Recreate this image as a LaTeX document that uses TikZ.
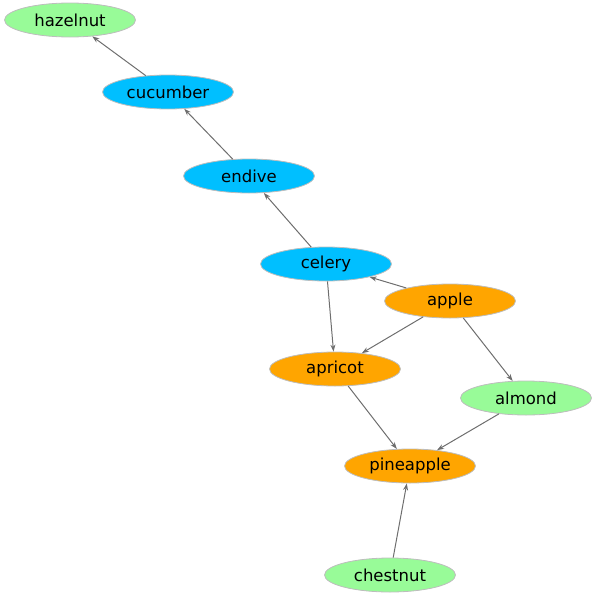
\documentclass[tikz,border=0pt]{standalone}
\usepackage{fontspec}
\setmainfont{DejaVu Sans}
\usepackage{xcolor}
\usepackage{tikz}
\usetikzlibrary{shapes.geometric,arrows.meta}

\definecolor{leafgreen}{HTML}{98FB98}
\definecolor{stemblue}{HTML}{00BFFF}
\definecolor{fruitorange}{HTML}{FFA500}
\definecolor{rimgray}{HTML}{BDBDBD}
\definecolor{linkgray}{HTML}{6E6E6E}

\begin{document}
\begin{tikzpicture}[x=1pt,y=-1pt,
    	veg/.style={ellipse,draw=rimgray,line width=0.8,minimum width=131,minimum height=34,inner sep=0,font=\fontsize{16.5}{19}\selectfont},
    	link/.style={draw=linkgray,line width=1,-{Stealth[length=7,width=5]}}]
	\useasboundingbox (0,0) rectangle (597,597);
	\node [veg,fill=leafgreen] (hazelnut) at (70,20) {hazelnut};
	\node [veg,fill=stemblue] (cucumber) at (168,92) {cucumber};
	\node [veg,fill=stemblue] (endive) at (249,176) {endive};
	\node [veg,fill=stemblue] (celery) at (326,264) {celery};
	\node [veg,fill=fruitorange] (apple) at (450,301) {apple};
	\node [veg,fill=fruitorange] (apricot) at (335,369) {apricot};
	\node [veg,fill=leafgreen] (almond) at (526,398) {almond};
	\node [veg,fill=fruitorange] (pineapple) at (410,466) {pineapple};
	\node [veg,fill=leafgreen] (chestnut) at (390,575) {chestnut};
	\foreach \a/\b in {cucumber/hazelnut, endive/cucumber, celery/endive, apple/celery,
		celery/apricot, apple/apricot, apple/almond, apricot/pineapple, almond/pineapple, chestnut/pineapple} {
		\draw [link] (\a) -- (\b);
	}
\end{tikzpicture}
\end{document}
